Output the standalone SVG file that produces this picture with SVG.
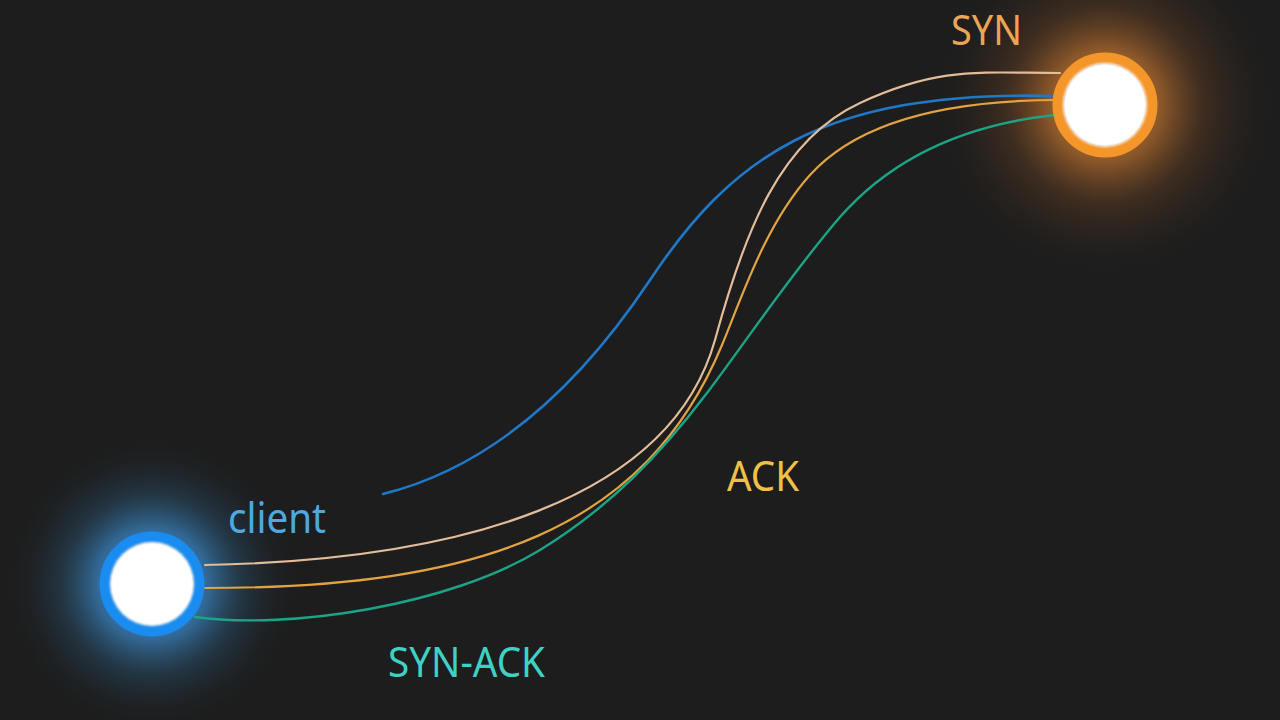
<svg xmlns="http://www.w3.org/2000/svg" width="1280" height="720" viewBox="0 0 1280 720">
  <defs>
    <radialGradient id="glowBlue" cx="0.5" cy="0.5" r="0.5">
      <stop offset="0" stop-color="#4aa0e8" stop-opacity="1"/>
      <stop offset="0.38" stop-color="#3b86c4" stop-opacity="0.7"/>
      <stop offset="0.6" stop-color="#2b5878" stop-opacity="0.42"/>
      <stop offset="0.82" stop-color="#223444" stop-opacity="0.2"/>
      <stop offset="1" stop-color="#1d1d1d" stop-opacity="0"/>
    </radialGradient>
    <radialGradient id="glowOrange" cx="0.5" cy="0.5" r="0.5">
      <stop offset="0" stop-color="#f8a040" stop-opacity="1"/>
      <stop offset="0.32" stop-color="#c27430" stop-opacity="0.65"/>
      <stop offset="0.55" stop-color="#6e4424" stop-opacity="0.4"/>
      <stop offset="0.8" stop-color="#3a2a1e" stop-opacity="0.2"/>
      <stop offset="1" stop-color="#1d1d1d" stop-opacity="0"/>
    </radialGradient>
    <filter id="soft" x="-30%" y="-30%" width="160%" height="160%">
      <feGaussianBlur stdDeviation="1.2"/>
    </filter>
  </defs>
  <style>
    .lbl { font-family: "Noto Sans", "Open Sans", sans-serif; font-size: 41px; }
    .wire { fill: none; stroke-linecap: round; }
    .inner { fill: #ffffff; }
  </style>
  <rect width="1280" height="720" fill="#1d1d1d"/>

  <g id="glows">
    <circle cx="152" cy="584" r="150" fill="url(#glowBlue)"/>
    <circle cx="1105" cy="105" r="180" fill="url(#glowOrange)"/>
  </g>

  <g id="connectors">
    <path class="wire" stroke="#1f78c8" stroke-width="2.6" d="M383,494 C480,470 570,400 650,280 C730,160 820,90 1053,96"/>
    <path class="wire" stroke="#e3bc9a" stroke-width="2.2" d="M205,565 C460,560 670,500 715,340 C745,230 780,140 860,103 S980,73 1060,73"/>
    <path class="wire" stroke="#e3a340" stroke-width="2.2" d="M205,588 C480,588 645,530 722,345 C742,297 765,225 810,175 C855,125 940,100 1060,100"/>
    <path class="wire" stroke="#1ba487" stroke-width="2.4" d="M195,617 C290,630 450,605 540,550 C610,507 660,455 707,393 C745,343 790,275 840,217 C890,160 960,125 1055,115"/>
  </g>

  <g id="client">
    <circle cx="152" cy="584" r="47" fill="none" stroke="#1a8cf0" stroke-width="11"/>
    <circle class="inner" cx="152" cy="584" r="42" filter="url(#soft)"/>
    <text class="lbl" x="228" y="533" fill="#4ca9e2" textLength="98" lengthAdjust="spacingAndGlyphs">client</text>
  </g>

  <g id="server">
    <circle cx="1105" cy="105" r="47" fill="none" stroke="#f5962a" stroke-width="11"/>
    <circle class="inner" cx="1105" cy="105" r="42" filter="url(#soft)"/>
    <text class="lbl" x="951" y="45" fill="#eca455" textLength="71" lengthAdjust="spacingAndGlyphs">SYN</text>
  </g>

  <g id="label-ack">
    <text class="lbl" x="727" y="491" fill="#f0c048" textLength="72" lengthAdjust="spacingAndGlyphs">ACK</text>
  </g>

  <g id="label-synack">
    <text class="lbl" x="388" y="677" fill="#3fd2c4" textLength="157" lengthAdjust="spacingAndGlyphs">SYN-ACK</text>
  </g>
</svg>
